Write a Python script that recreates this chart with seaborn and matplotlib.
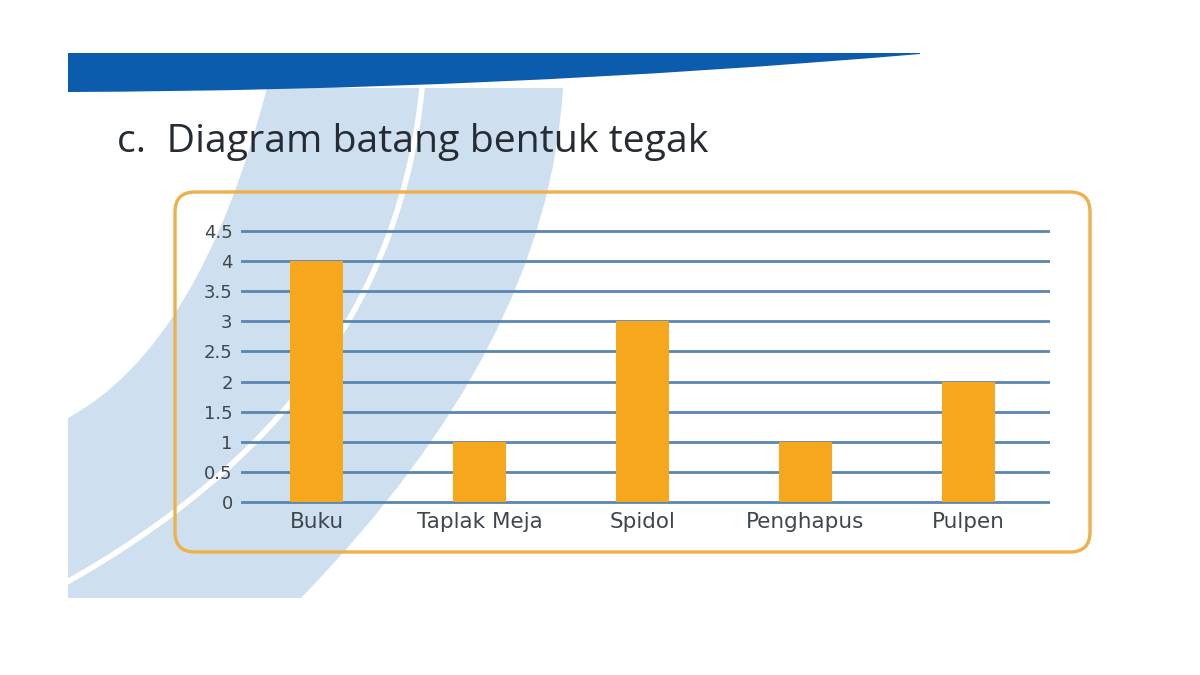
import numpy as np
import pandas as pd
import matplotlib
matplotlib.use("Agg")
import matplotlib.pyplot as plt
from matplotlib.path import Path
from matplotlib.patches import PathPatch, FancyBboxPatch
import seaborn as sns

# ---- data ----
categories = ["Buku", "Taplak Meja", "Spidol", "Penghapus", "Pulpen"]
values = [4, 1, 3, 1, 2]
y_ticks = [0, 0.5, 1, 1.5, 2, 2.5, 3, 3.5, 4, 4.5]
y_tick_labels = ["0", "0.5", "1", "1.5", "2", "2.5", "3", "3.5", "4", "4.5"]
title = "c.  Diagram batang bentuk tegak"

sns.set_style("white")
plt.rcParams["font.family"] = ["DejaVu Sans"]

W, H = 1200, 675
fig = plt.figure(figsize=(12, 6.75), dpi=100)
fig.patch.set_facecolor("white")

# ---- background decoration (pixel coordinates) ----
bg = fig.add_axes([0, 0, 1, 1], zorder=0)
bg.set_xlim(0, W)
bg.set_ylim(H, 0)
bg.axis("off")

LIGHT = "#cedff0"
verts = [(267, 88), (200, 346), (68, 418), (68, 598), (301, 598), (548, 344), (563, 88), (267, 88)]
codes = [Path.MOVETO, Path.CURVE3, Path.CURVE3, Path.LINETO, Path.LINETO,
         Path.CURVE3, Path.CURVE3, Path.CLOSEPOLY]
swoosh = PathPatch(Path(verts, codes), facecolor=LIGHT, edgecolor="none", zorder=1)
bg.add_patch(swoosh)

wverts = [(422, 88), (392, 402), (60, 586)]
wcodes = [Path.MOVETO, Path.CURVE3, Path.CURVE3]
wcurve = PathPatch(Path(wverts, wcodes), facecolor="none", edgecolor="white", lw=4, zorder=2)
bg.add_patch(wcurve)
wcurve.set_clip_path(swoosh)

bverts = [(68, 53), (920, 53), (920, 54), (494, 90.5), (68, 92), (68, 53)]
bcodes = [Path.MOVETO, Path.LINETO, Path.LINETO, Path.CURVE3, Path.CURVE3, Path.CLOSEPOLY]
band = PathPatch(Path(bverts, bcodes), facecolor="#0b5cad", edgecolor="none", zorder=3)
bg.add_patch(band)

bg.text(117, 152, title, fontsize=28.3, color="#262c33", ha="left", va="baseline",
        family=["Open Sans", "DejaVu Sans"], zorder=4)

frame = FancyBboxPatch((175, 192), 915, 360, boxstyle="round,pad=0,rounding_size=20",
                       facecolor="none", edgecolor="#eeb04a", lw=2.4, zorder=4)
bg.add_patch(frame)

# ---- chart ----
y0_px, y45_px = 502, 231
ppu = (y0_px - y45_px) / 4.5
ylo, yhi = -0.03, 4.53
ax_bottom_px = y0_px + (0 - ylo) * ppu
ax_top_px = y0_px - (yhi - 0) * ppu
left_px, right_px = 241, 1050
ax = fig.add_axes([left_px / W, 1 - ax_bottom_px / H,
                   (right_px - left_px) / W, (ax_bottom_px - ax_top_px) / H], zorder=5)
ax.set_facecolor("none")

df = pd.DataFrame({"kategori": categories, "jumlah": values})
sns.barplot(data=df, x="kategori", y="jumlah", color="#f7a71c", saturation=1,
            width=0.33, linewidth=0, edgecolor="none", ax=ax, zorder=3)

ax.set_xlim(-0.463, 4.5)
ax.set_ylim(ylo, yhi)
ax.set_yticks(y_ticks)
ax.set_yticklabels(y_tick_labels)
ax.yaxis.grid(True, color="#5a86b0", lw=2)
ax.xaxis.grid(False)
ax.set_axisbelow(True)
for s in ax.spines.values():
    s.set_visible(False)
ax.set_xlabel("")
ax.set_ylabel("")
ax.tick_params(axis="both", length=0, labelcolor="#3f464e")
ax.tick_params(axis="y", pad=6, labelsize=13)
ax.tick_params(axis="x", pad=6, labelsize=15.5)

fig.savefig("out.png", dpi=100, facecolor="white")
